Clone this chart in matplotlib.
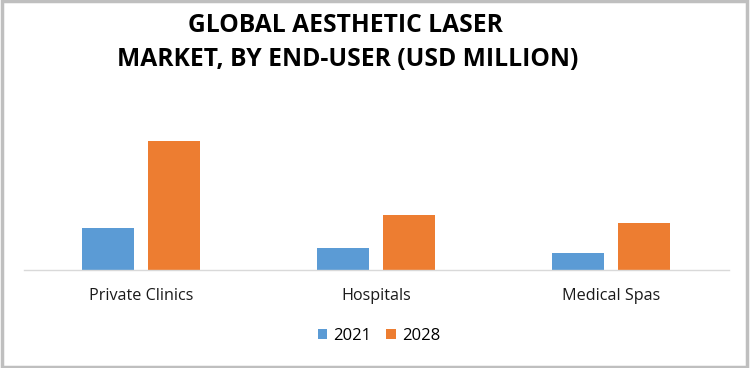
import numpy as np
import matplotlib.pyplot as plt
from matplotlib.patches import Rectangle

# values (bar heights, arbitrary units)
categories = ['Private Clinics', 'Hospitals', 'Medical Spas']
years = ['2021', '2028']
values_2021 = [42, 22, 17]
values_2028 = [129, 55, 47]

plt.rcParams['font.family'] = ['Open Sans', 'DejaVu Sans']

fig = plt.figure(figsize=(7.52, 3.68), dpi=100)
ax = fig.add_axes([23.5 / 752, 98 / 368, 705 / 752, 140 / 368])

x = np.arange(len(categories))
w = 0.221
off = 0.14
ax.bar(x - off, values_2021, w, color='#5B9BD5', label=years[0])
ax.bar(x + off, values_2028, w, color='#ED7D31', label=years[1])

ax.set_xlim(-0.5, 2.5)
ax.set_ylim(0, 140)
ax.set_yticks([])
ax.set_xticks(x)
ax.set_xticklabels(categories, fontsize=11.6, color='#1a1a1a')
ax.tick_params(axis='x', length=0, pad=13)
for s in ['top', 'right', 'left']:
    ax.spines[s].set_visible(False)
ax.spines['bottom'].set_color('#D9D9D9')
ax.spines['bottom'].set_linewidth(1)

# title, two lines
fig.text(345 / 752, 1 - 25 / 368, 'GLOBAL AESTHETIC LASER',
         ha='center', va='center', fontsize=17.7, fontweight='bold', color='black')
fig.text(348 / 752, 1 - 60 / 368, 'MARKET, BY END-USER (USD MILLION)',
         ha='center', va='center', fontsize=17.7, fontweight='bold', color='black')

fig.legend(loc='center', bbox_to_anchor=(379 / 752, 1 - 336 / 368), ncol=2,
           frameon=False, fontsize=12, handlelength=0.55, handleheight=0.55,
           handletextpad=0.4, columnspacing=0.9)

# grey border round the figure
fig.patches.append(Rectangle((0.002, 0.003), 0.992, 0.993, transform=fig.transFigure,
                             fill=False, edgecolor='#BFBFBF', linewidth=2.5))

plt.savefig('out.png', dpi=100)
